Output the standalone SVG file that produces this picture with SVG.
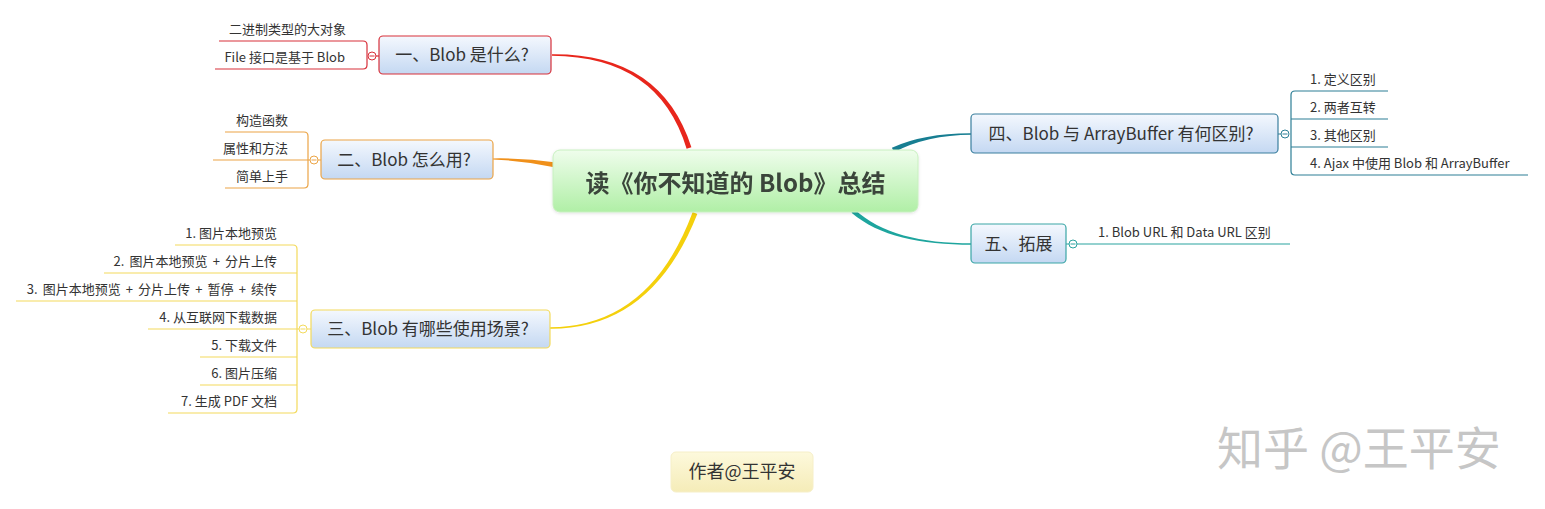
<svg xmlns="http://www.w3.org/2000/svg" width="1545" height="509" viewBox="0 0 1545 509">
<defs>
<linearGradient id="gBlue" x1="0" y1="0" x2="0" y2="1"><stop offset="0" stop-color="#f4f8fe"/><stop offset="1" stop-color="#c4d8f2"/></linearGradient>
<linearGradient id="gGreen" x1="0" y1="0" x2="0" y2="1"><stop offset="0" stop-color="#effdec"/><stop offset="1" stop-color="#b0efa6"/></linearGradient>
<linearGradient id="gYellow" x1="0" y1="0" x2="0" y2="1"><stop offset="0" stop-color="#fdf9dc"/><stop offset="1" stop-color="#f5ecb8"/></linearGradient>
<filter id="soft" x="-10%" y="-20%" width="120%" height="150%"><feGaussianBlur in="SourceAlpha" stdDeviation="1.5"/><feOffset dx="0" dy="1" result="b"/><feFlood flood-color="#000" flood-opacity="0.12"/><feComposite in2="b" operator="in"/><feMerge><feMergeNode/><feMergeNode in="SourceGraphic"/></feMerge></filter>
</defs>
<style>
text{font-family:"Noto Sans CJK SC","Liberation Sans",sans-serif;fill:#333}
.topic{font-size:17px;text-anchor:middle}
.sub{font-size:13px}
.end{text-anchor:end}
.plus{word-spacing:2.2px}
.tree{fill:none;stroke-width:1.2}
.box{stroke-width:1.2}
.toggle{fill:#fff;stroke-width:1}
.wm{font-size:46px}
</style>
<rect width="1545" height="509" fill="#ffffff"/>
<g id="connectors">
<path d="M552,54.3 Q661.2,53.4 691.4,147.3 L686.6,148.7 Q658.8,56.6 552,55.7 Z" fill="#e8261c"/>
<path d="M493,158.4 Q525,157.8 556.4,162.6 L555.6,167.4 Q524,160.6 493,159.6 Z" fill="#f0901a"/>
<path d="M550,328.7 Q651.9,329.3 697.3,213.9 L692.7,212.1 Q650.1,326.7 550,327.3 Z" fill="#f4d00c"/>
<path d="M972,133.3 Q924,133 891.9,147.8 L894.1,152.2 Q926,135 972,134.7 Z" fill="#177e92"/>
<path d="M972,243.3 C920,243.3 881,233.8 854.5,209.3 L851.5,212.7 C879,236.2 920,244.7 972,244.7 Z" fill="#1ea59e"/>
<path class="tree" stroke="#d8303a" d="M219,41 H363 Q367,41 367,45 V65 Q367,69 363,69 H215"/>
<path class="tree" stroke="#d8303a" d="M376,56 H379"/>
<path class="tree" stroke="#eba446" d="M225,132 H304 Q308,132 308,136 V184 Q308,188 304,188 H225 M213,160 H310 M318,160 H321"/>
<path class="tree" stroke="#f3da5c" d="M175,245 H293 Q297,245 297,249 V409 Q297,413 293,413 H168 M104,273 H297 M16,301 H297 M148,329 H299 M200,357 H297 M200,385 H297 M307,329 H311"/>
<path class="tree" stroke="#2d7f96" d="M1388,91 H1295 Q1291,91 1291,95 V171 Q1291,175 1295,175 H1528 M1388,119 H1291 M1388,147 H1291 M1278,134 H1281"/>
<path class="tree" stroke="#2aa3a0" d="M1077,244 H1290 M1066,244 H1069"/>
</g>
<g id="center" filter="url(#soft)">
<rect x="553" y="150" width="365" height="62" rx="7" fill="url(#gGreen)" stroke="#c8f0c0" stroke-width="1"/>
<text x="735.5" y="191.5" style="font-size:24px;font-weight:bold;text-anchor:middle;fill:#3a453a">读《你不知道的 Blob》总结</text>
</g>
<g id="b1">
<rect class="box" x="379" y="36" width="172" height="38" rx="4" fill="url(#gBlue)" stroke="#d8303a"/>
<text class="topic" x="462" y="61">一、Blob 是什么?</text>
<circle class="toggle" cx="372" cy="56" r="4" stroke="#d8303a"/>
<path d="M369.5,56 H374.5" stroke="#d8303a" stroke-width="1"/>
</g>
<g id="b1c1"><text class="sub end" x="346" y="33.5">二进制类型的大对象</text></g>
<g id="b1c2"><text class="sub end" x="345" y="61.5">File 接口是基于 Blob</text></g>
<g id="b2">
<rect class="box" x="321" y="140" width="172" height="39" rx="4" fill="url(#gBlue)" stroke="#eba446"/>
<text class="topic" x="404" y="165.5">二、Blob 怎么用?</text>
<circle class="toggle" cx="314" cy="160" r="4" stroke="#eba446"/>
<path d="M311.5,160 H316.5" stroke="#eba446" stroke-width="1"/>
</g>
<g id="b2c1"><text class="sub end" x="288" y="124.5">构造函数</text></g>
<g id="b2c2"><text class="sub end" x="288" y="152.5">属性和方法</text></g>
<g id="b2c3"><text class="sub end" x="288" y="180.5">简单上手</text></g>
<g id="b3">
<rect class="box" x="311" y="310" width="239" height="38" rx="4" fill="url(#gBlue)" stroke="#f3da5c"/>
<text class="topic" x="428" y="335">三、Blob 有哪些使用场景?</text>
<circle class="toggle" cx="303" cy="329" r="4" stroke="#f3da5c"/>
<path d="M300.5,329 H305.5" stroke="#f3da5c" stroke-width="1"/>
</g>
<g id="b3c1"><text class="sub end" x="277" y="237.5">1. 图片本地预览</text></g>
<g id="b3c2"><text class="sub end plus" x="277" y="265.5">2. 图片本地预览 + 分片上传</text></g>
<g id="b3c3"><text class="sub end plus" x="277" y="293.5">3. 图片本地预览 + 分片上传 + 暂停 + 续传</text></g>
<g id="b3c4"><text class="sub end" x="277" y="321.5">4. 从互联网下载数据</text></g>
<g id="b3c5"><text class="sub end" x="277" y="349.5">5. 下载文件</text></g>
<g id="b3c6"><text class="sub end" x="277" y="377.5">6. 图片压缩</text></g>
<g id="b3c7"><text class="sub end" x="277" y="405.5">7. 生成 PDF 文档</text></g>
<g id="b4">
<rect class="box" x="971" y="114" width="307" height="39" rx="4" fill="url(#gBlue)" stroke="#3a7f9e"/>
<text class="topic" x="1121" y="139.5">四、Blob 与 ArrayBuffer 有何区别?</text>
<circle class="toggle" cx="1285" cy="134" r="4" stroke="#2d7f96"/>
<path d="M1282.5,134 H1287.5" stroke="#2d7f96" stroke-width="1"/>
</g>
<g id="b4c1"><text class="sub" x="1310" y="83.5">1. 定义区别</text></g>
<g id="b4c2"><text class="sub" x="1310" y="111.5">2. 两者互转</text></g>
<g id="b4c3"><text class="sub" x="1310" y="139.5">3. 其他区别</text></g>
<g id="b4c4"><text class="sub" x="1310" y="167.5">4. Ajax 中使用 Blob 和 ArrayBuffer</text></g>
<g id="b5">
<rect class="box" x="971" y="224" width="95" height="39" rx="4" fill="url(#gBlue)" stroke="#3aa6a6"/>
<text class="topic" x="1018.5" y="249.5">五、拓展</text>
<circle class="toggle" cx="1073" cy="244" r="4" stroke="#2aa3a0"/>
<path d="M1070.5,244 H1075.5" stroke="#2aa3a0" stroke-width="1"/>
</g>
<g id="b5c1"><text class="sub" x="1098" y="236.5">1. Blob URL 和 Data URL 区别</text></g>
<g id="author">
<rect x="671" y="452" width="142" height="40" rx="5" fill="url(#gYellow)" stroke="#f6efc8" stroke-width="1"/>
<text x="742" y="478" style="font-size:18px;text-anchor:middle">作者@王平安</text>
</g>
<g id="watermark">
<text class="wm" x="1220" y="468" style="fill:#ffffff;opacity:0.9">知乎 @王平安</text>
<text class="wm" x="1217" y="465" style="fill:#c6c6c6">知乎 @王平安</text>
</g>
</svg>
